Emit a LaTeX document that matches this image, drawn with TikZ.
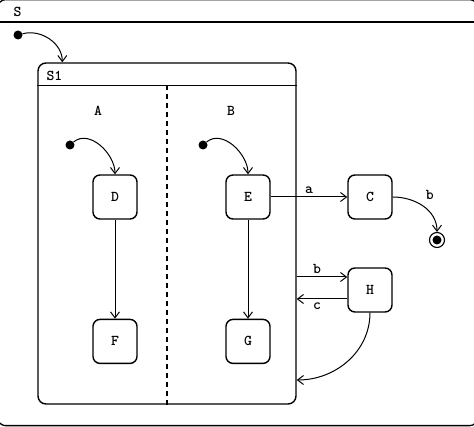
\documentclass[tikz,border=0pt]{standalone}
\usepackage{tikz}
\usetikzlibrary{positioning,arrows.meta,calc}

\begin{document}
\begin{tikzpicture}[x=1pt,y=1pt,every node/.style={font=\ttfamily\bfseries\fontsize{15}{18}\selectfont}]
\tikzstyle{state}=[draw,line width=1.4pt,rounded corners=7pt,minimum width=44pt,minimum height=44pt,inner sep=0pt]
\tikzstyle{trans}=[-{Straight Barb[length=6pt,width=9pt]},line width=1pt]
\tikzstyle{init}=[circle,fill,inner sep=0pt,minimum size=9pt]
\useasboundingbox (0,0) rectangle (474,-427);
% outer state S
\node[draw,line width=1.3pt,rounded corners=8pt,minimum width=480pt,minimum height=426pt,inner sep=0pt,anchor=north west] (S) at (-3,1) {};
\node[anchor=base west] (Slbl) at (10,-17) {S};
\draw[line width=1.3pt] ($(S.north west)+(0,-23)$) -- ($(S.north east)+(0,-23)$);
\node[init] (i0) at (18,-35) {};
% composite state S1
\node[draw,line width=1.4pt,rounded corners=8pt,minimum width=258pt,minimum height=341pt,inner sep=0pt] (S1) at (167,-233.5) {};
\node[anchor=base west] (S1lbl) at (43,-81) {S1};
\draw[line width=1.4pt] ($(S1.north west)+(0,-23)$) -- ($(S1.north east)+(0,-23)$);
\draw[dash pattern=on 5pt off 4pt,line width=1.1pt] ($(S1.north)+(0,-23)$) -- (S1.south);
\node (A) at (98,-111) {A};
\node (B) at (231,-111) {B};
\node[init] (iA) at (70,-145) {};
\node[init] (iB) at (203,-145) {};
\node[state] (D) at (115,-197) {D};
\node[state,below=99pt of D] (F) {F};
\node[state] (E) at (248,-197) {E};
\node[state,below=99pt of E] (G) {G};
\node[state] (C) at (370,-197) {C};
\node[state] (H) at (370,-290) {H};
\node[circle,draw,line width=1.1pt,minimum size=15pt,inner sep=0pt,
  path picture={\fill (path picture bounding box.center) circle (4.5pt);}] (fin) at (437,-240) {};
% transitions
\draw[trans] (i0) to[out=15,in=90] ($(S1.north west)+(25,0)$);
\draw[trans] (iA) to[out=40,in=90] (D.north);
\draw[trans] (iB) to[out=40,in=90] (E.north);
\draw[trans] (D) -- (F);
\draw[trans] (E) -- (G);
\draw[trans] (E) -- node[above] {a} (C);
\draw[trans] (C.east) to[out=0,in=90] node[pos=0.45,above right=2pt] {b} (fin);
\draw[trans] (S1.east |- 0,-277) -- node[above,pos=0.4] {b} (H.west |- 0,-277);
\draw[trans] (H.west |- 0,-299) -- node[below,pos=0.6] {c} (S1.east |- 0,-299);
\draw[trans] (H.south) to[out=-90,in=0] (S1.east |- 0,-380);
\end{tikzpicture}
\end{document}
